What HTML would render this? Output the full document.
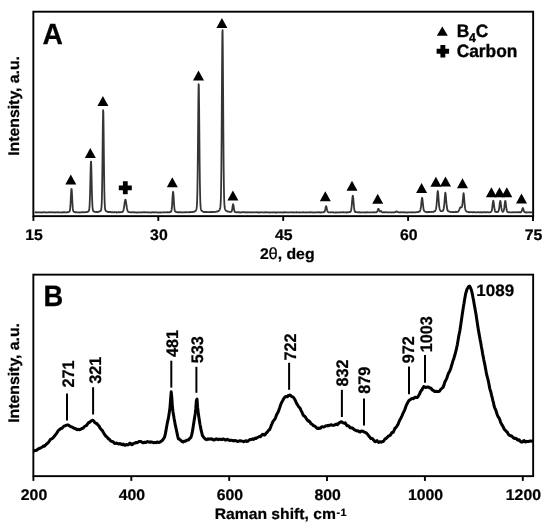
<!DOCTYPE html>
<html><head><meta charset="utf-8"><title>XRD and Raman</title>
<style>
html,body{margin:0;padding:0;background:#fff}
svg{display:block}
text{font-family:"Liberation Sans",Arial,Helvetica,sans-serif;font-weight:bold;font-size:15.8px;fill:#000;text-rendering:geometricPrecision;stroke:#000;stroke-width:0.25px}
.big{font-size:27px}
.leg{font-size:17.35px;stroke:#000;stroke-width:0.35px}
</style></head><body>
<svg width="550" height="527" viewBox="0 0 550 527">
<rect width="550" height="527" fill="#fff"/>
<defs><filter id="soft" x="0" y="0" width="550" height="527" filterUnits="userSpaceOnUse"><feGaussianBlur stdDeviation="0.35"/></filter></defs>
<g filter="url(#soft)">
<!-- panel A -->
<path d="M34.60,212.36 L34.85,212.39 L35.10,212.23 L35.35,212.36 L35.60,212.32 L35.85,212.23 L36.10,212.24 L36.35,212.20 L36.60,212.52 L36.85,212.55 L37.10,212.58 L37.35,212.37 L37.60,212.31 L37.85,212.27 L38.10,212.26 L38.35,212.33 L38.60,212.38 L38.85,212.46 L39.10,212.42 L39.35,212.44 L39.60,212.47 L39.85,212.52 L40.10,212.48 L40.35,212.38 L40.60,212.38 L40.85,212.53 L41.10,212.52 L41.35,212.47 L41.60,212.42 L41.85,212.38 L42.10,212.38 L42.35,212.37 L42.60,212.46 L42.85,212.48 L43.10,212.47 L43.35,212.26 L43.60,212.32 L43.85,212.22 L44.10,212.29 L44.35,212.25 L44.60,212.35 L44.85,212.42 L45.10,212.34 L45.35,212.30 L45.60,212.32 L45.85,212.47 L46.10,212.51 L46.35,212.53 L46.60,212.51 L46.85,212.45 L47.10,212.38 L47.35,212.35 L47.60,212.40 L47.85,212.44 L48.10,212.36 L48.35,212.34 L48.60,212.20 L48.85,212.29 L49.10,212.31 L49.35,212.36 L49.60,212.32 L49.85,212.23 L50.10,212.37 L50.35,212.25 L50.60,212.25 L50.85,212.25 L51.10,212.44 L51.35,212.36 L51.60,212.29 L51.85,212.24 L52.10,212.33 L52.35,212.46 L52.60,212.37 L52.85,212.43 L53.10,212.27 L53.35,212.42 L53.60,212.40 L53.85,212.44 L54.10,212.25 L54.35,212.35 L54.60,212.42 L54.85,212.57 L55.10,212.54 L55.35,212.51 L55.60,212.43 L55.85,212.31 L56.10,212.24 L56.35,212.36 L56.60,212.32 L56.85,212.33 L57.10,212.23 L57.35,212.33 L57.60,212.40 L57.85,212.34 L58.10,212.23 L58.35,212.19 L58.60,212.34 L58.85,212.48 L59.10,212.50 L59.35,212.40 L59.60,212.38 L59.85,212.35 L60.10,212.41 L60.35,212.35 L60.60,212.37 L60.85,212.31 L61.10,212.39 L61.35,212.39 L61.60,212.55 L61.85,212.61 L62.10,212.68 L62.35,212.41 L62.60,212.29 L62.85,212.16 L63.10,212.32 L63.35,212.20 L63.60,212.30 L63.85,212.33 L64.10,212.38 L64.35,212.25 L64.60,212.13 L64.85,212.21 L65.10,212.30 L65.35,212.47 L65.60,212.45 L65.85,212.45 L66.10,212.32 L66.35,212.43 L66.60,212.42 L66.85,212.48 L67.10,212.29 L67.35,212.22 L67.60,212.07 L67.85,212.20 L68.10,212.22 L68.35,212.21 L68.60,212.04 L68.85,211.97 L69.10,211.85 L69.35,211.64 L69.60,211.29 L69.85,210.74 L70.10,209.32 L70.35,206.69 L70.60,202.56 L70.85,197.52 L71.10,192.51 L71.35,189.12 L71.60,188.84 L71.85,191.82 L72.10,196.67 L72.35,201.78 L72.60,205.83 L72.85,208.63 L73.10,210.28 L73.35,211.18 L73.60,211.58 L73.85,211.72 L74.10,211.86 L74.35,212.01 L74.60,212.08 L74.85,212.13 L75.10,212.16 L75.35,212.24 L75.60,212.38 L75.85,212.22 L76.10,212.25 L76.35,212.13 L76.60,212.27 L76.85,212.28 L77.10,212.38 L77.35,212.44 L77.60,212.40 L77.85,212.44 L78.10,212.36 L78.35,212.35 L78.60,212.30 L78.85,212.29 L79.10,212.43 L79.35,212.44 L79.60,212.60 L79.85,212.47 L80.10,212.39 L80.35,212.27 L80.60,212.31 L80.85,212.30 L81.10,212.31 L81.35,212.26 L81.60,212.39 L81.85,212.33 L82.10,212.39 L82.35,212.25 L82.60,212.22 L82.85,212.11 L83.10,212.07 L83.35,212.13 L83.60,212.23 L83.85,212.31 L84.10,212.32 L84.35,212.35 L84.60,212.35 L84.85,212.31 L85.10,212.18 L85.35,212.05 L85.60,212.07 L85.85,211.96 L86.10,212.07 L86.35,211.99 L86.60,212.13 L86.85,212.05 L87.10,211.96 L87.35,211.86 L87.60,211.76 L87.85,211.72 L88.10,211.60 L88.35,211.48 L88.60,211.27 L88.85,210.85 L89.10,210.09 L89.35,208.39 L89.60,205.30 L89.85,199.73 L90.10,191.55 L90.35,180.96 L90.60,170.06 L90.85,162.47 L91.10,161.62 L91.35,168.06 L91.60,178.58 L91.85,189.49 L92.10,198.36 L92.35,204.38 L92.60,207.93 L92.85,209.86 L93.10,210.68 L93.35,211.14 L93.60,211.40 L93.85,211.55 L94.10,211.57 L94.35,211.60 L94.60,211.70 L94.85,211.89 L95.10,211.94 L95.35,211.94 L95.60,211.81 L95.85,211.81 L96.10,212.02 L96.35,212.06 L96.60,212.07 L96.85,211.96 L97.10,211.96 L97.35,212.08 L97.60,212.00 L97.85,212.02 L98.10,211.86 L98.35,211.90 L98.60,211.74 L98.85,211.78 L99.10,211.67 L99.35,211.67 L99.60,211.41 L99.85,211.25 L100.10,211.14 L100.35,211.07 L100.60,210.90 L100.85,210.58 L101.10,209.92 L101.35,208.57 L101.60,205.67 L101.85,199.61 L102.10,188.36 L102.35,170.61 L102.60,147.66 L102.85,124.64 L103.10,110.14 L103.35,111.86 L103.60,128.87 L103.85,152.53 L104.10,174.71 L104.35,191.02 L104.60,201.16 L104.85,206.32 L105.10,208.81 L105.35,209.94 L105.60,210.56 L105.85,210.97 L106.10,211.17 L106.35,211.37 L106.60,211.44 L106.85,211.43 L107.10,211.53 L107.35,211.71 L107.60,211.82 L107.85,212.02 L108.10,211.95 L108.35,212.11 L108.60,212.04 L108.85,211.94 L109.10,211.88 L109.35,211.91 L109.60,212.00 L109.85,211.97 L110.10,212.00 L110.35,212.05 L110.60,212.04 L110.85,211.99 L111.10,212.09 L111.35,212.17 L111.60,212.28 L111.85,212.33 L112.10,212.37 L112.35,212.25 L112.60,212.09 L112.85,212.09 L113.10,212.22 L113.35,212.31 L113.60,212.35 L113.85,212.28 L114.10,212.28 L114.35,212.23 L114.60,212.24 L114.85,212.14 L115.10,212.08 L115.35,212.07 L115.60,212.08 L115.85,212.12 L116.10,212.19 L116.35,212.25 L116.60,212.48 L116.85,212.50 L117.10,212.47 L117.35,212.34 L117.60,212.30 L117.85,212.30 L118.10,212.31 L118.35,212.24 L118.60,212.10 L118.85,212.08 L119.10,212.08 L119.35,212.35 L119.60,212.25 L119.85,212.21 L120.10,212.21 L120.35,212.17 L120.60,212.24 L120.85,212.22 L121.10,212.27 L121.35,212.23 L121.60,212.12 L121.85,212.13 L122.10,212.02 L122.35,211.95 L122.60,211.76 L122.85,211.68 L123.10,211.20 L123.35,210.47 L123.60,209.46 L123.85,208.24 L124.10,206.80 L124.35,205.03 L124.60,203.32 L124.85,201.62 L125.10,200.37 L125.35,199.58 L125.60,199.81 L125.85,200.91 L126.10,202.54 L126.35,204.32 L126.60,205.94 L126.85,207.63 L127.10,209.02 L127.35,210.06 L127.60,210.81 L127.85,211.32 L128.10,211.76 L128.35,211.89 L128.60,212.10 L128.85,212.16 L129.10,212.24 L129.35,212.14 L129.60,212.13 L129.85,212.21 L130.10,212.24 L130.35,212.33 L130.60,212.33 L130.85,212.44 L131.10,212.43 L131.35,212.40 L131.60,212.21 L131.85,212.19 L132.10,212.25 L132.35,212.38 L132.60,212.40 L132.85,212.33 L133.10,212.30 L133.35,212.21 L133.60,212.32 L133.85,212.36 L134.10,212.39 L134.35,212.23 L134.60,212.21 L134.85,212.33 L135.10,212.44 L135.35,212.41 L135.60,212.41 L135.85,212.47 L136.10,212.58 L136.35,212.54 L136.60,212.52 L136.85,212.50 L137.10,212.50 L137.35,212.38 L137.60,212.44 L137.85,212.41 L138.10,212.58 L138.35,212.37 L138.60,212.40 L138.85,212.34 L139.10,212.44 L139.35,212.42 L139.60,212.41 L139.85,212.47 L140.10,212.41 L140.35,212.36 L140.60,212.38 L140.85,212.49 L141.10,212.51 L141.35,212.45 L141.60,212.39 L141.85,212.44 L142.10,212.38 L142.35,212.28 L142.60,212.23 L142.85,212.23 L143.10,212.27 L143.35,212.27 L143.60,212.37 L143.85,212.34 L144.10,212.38 L144.35,212.24 L144.60,212.34 L144.85,212.20 L145.10,212.23 L145.35,212.24 L145.60,212.31 L145.85,212.34 L146.10,212.27 L146.35,212.32 L146.60,212.37 L146.85,212.39 L147.10,212.43 L147.35,212.39 L147.60,212.36 L147.85,212.27 L148.10,212.38 L148.35,212.47 L148.60,212.58 L148.85,212.50 L149.10,212.44 L149.35,212.41 L149.60,212.39 L149.85,212.45 L150.10,212.44 L150.35,212.42 L150.60,212.37 L150.85,212.32 L151.10,212.46 L151.35,212.62 L151.60,212.62 L151.85,212.52 L152.10,212.23 L152.35,212.25 L152.60,212.24 L152.85,212.32 L153.10,212.35 L153.35,212.26 L153.60,212.31 L153.85,212.27 L154.10,212.29 L154.35,212.35 L154.60,212.41 L154.85,212.40 L155.10,212.26 L155.35,212.24 L155.60,212.32 L155.85,212.33 L156.10,212.27 L156.35,212.27 L156.60,212.33 L156.85,212.40 L157.10,212.43 L157.35,212.54 L157.60,212.58 L157.85,212.59 L158.10,212.55 L158.35,212.55 L158.60,212.55 L158.85,212.41 L159.10,212.38 L159.35,212.34 L159.60,212.51 L159.85,212.47 L160.10,212.49 L160.35,212.41 L160.60,212.51 L160.85,212.49 L161.10,212.45 L161.35,212.37 L161.60,212.33 L161.85,212.35 L162.10,212.33 L162.35,212.37 L162.60,212.48 L162.85,212.45 L163.10,212.44 L163.35,212.31 L163.60,212.37 L163.85,212.30 L164.10,212.27 L164.35,212.22 L164.60,212.32 L164.85,212.36 L165.10,212.33 L165.35,212.24 L165.60,212.27 L165.85,212.38 L166.10,212.45 L166.35,212.43 L166.60,212.36 L166.85,212.28 L167.10,212.24 L167.35,212.19 L167.60,212.26 L167.85,212.27 L168.10,212.20 L168.35,212.24 L168.60,212.33 L168.85,212.37 L169.10,212.31 L169.35,212.20 L169.60,212.24 L169.85,212.09 L170.10,212.13 L170.35,212.00 L170.60,212.07 L170.85,211.83 L171.10,211.53 L171.35,210.84 L171.60,209.73 L171.85,207.70 L172.10,204.67 L172.35,200.66 L172.60,196.39 L172.85,193.06 L173.10,191.77 L173.35,193.22 L173.60,196.64 L173.85,200.77 L174.10,204.69 L174.35,207.75 L174.60,209.86 L174.85,210.89 L175.10,211.19 L175.35,211.37 L175.60,211.72 L175.85,211.98 L176.10,212.08 L176.35,212.10 L176.60,212.10 L176.85,212.16 L177.10,212.19 L177.35,212.29 L177.60,212.31 L177.85,212.24 L178.10,212.25 L178.35,212.21 L178.60,212.34 L178.85,212.47 L179.10,212.45 L179.35,212.25 L179.60,212.07 L179.85,212.14 L180.10,212.34 L180.35,212.43 L180.60,212.36 L180.85,212.26 L181.10,212.27 L181.35,212.25 L181.60,212.36 L181.85,212.28 L182.10,212.39 L182.35,212.36 L182.60,212.42 L182.85,212.43 L183.10,212.32 L183.35,212.29 L183.60,212.24 L183.85,212.32 L184.10,212.38 L184.35,212.36 L184.60,212.29 L184.85,212.17 L185.10,212.17 L185.35,212.25 L185.60,212.25 L185.85,212.33 L186.10,212.30 L186.35,212.33 L186.60,212.18 L186.85,212.17 L187.10,212.22 L187.35,212.19 L187.60,212.24 L187.85,212.29 L188.10,212.41 L188.35,212.37 L188.60,212.40 L188.85,212.45 L189.10,212.36 L189.35,212.20 L189.60,212.11 L189.85,212.14 L190.10,211.99 L190.35,212.03 L190.60,211.99 L190.85,212.13 L191.10,212.06 L191.35,212.13 L191.60,212.08 L191.85,212.02 L192.10,211.97 L192.35,212.04 L192.60,212.04 L192.85,212.05 L193.10,211.94 L193.35,211.89 L193.60,211.84 L193.85,211.71 L194.10,211.74 L194.35,211.53 L194.60,211.51 L194.85,211.25 L195.10,211.09 L195.35,210.96 L195.60,210.83 L195.85,210.61 L196.10,210.14 L196.35,209.57 L196.60,208.41 L196.85,206.15 L197.10,201.49 L197.35,192.55 L197.60,177.19 L197.85,154.57 L198.10,126.91 L198.35,100.32 L198.60,84.22 L198.85,86.23 L199.10,105.39 L199.35,132.80 L199.60,159.76 L199.85,180.83 L200.10,194.78 L200.35,202.61 L200.60,206.67 L200.85,208.65 L201.10,209.81 L201.35,210.43 L201.60,210.68 L201.85,210.87 L202.10,210.96 L202.35,211.23 L202.60,211.33 L202.85,211.54 L203.10,211.74 L203.35,211.88 L203.60,212.03 L203.85,211.95 L204.10,211.92 L204.35,211.91 L204.60,212.04 L204.85,212.06 L205.10,212.01 L205.35,211.85 L205.60,211.89 L205.85,211.96 L206.10,212.06 L206.35,212.05 L206.60,211.93 L206.85,211.97 L207.10,212.06 L207.35,212.19 L207.60,212.19 L207.85,212.07 L208.10,212.15 L208.35,212.14 L208.60,212.21 L208.85,212.15 L209.10,212.03 L209.35,212.03 L209.60,211.98 L209.85,212.14 L210.10,212.22 L210.35,212.26 L210.60,212.12 L210.85,212.02 L211.10,212.00 L211.35,212.11 L211.60,212.05 L211.85,211.94 L212.10,211.95 L212.35,212.04 L212.60,212.13 L212.85,211.99 L213.10,212.06 L213.35,211.88 L213.60,211.95 L213.85,211.95 L214.10,212.10 L214.35,212.12 L214.60,211.91 L214.85,211.98 L215.10,211.86 L215.35,211.92 L215.60,211.82 L215.85,211.80 L216.10,211.80 L216.35,211.66 L216.60,211.63 L216.85,211.52 L217.10,211.52 L217.35,211.52 L217.60,211.49 L217.85,211.40 L218.10,211.23 L218.35,211.01 L218.60,210.84 L218.85,210.73 L219.10,210.51 L219.35,210.27 L219.60,209.85 L219.85,209.32 L220.10,208.60 L220.35,207.20 L220.60,204.54 L220.85,198.88 L221.10,187.62 L221.35,167.77 L221.60,137.43 L221.85,99.04 L222.10,59.86 L222.35,32.84 L222.60,30.07 L222.85,53.19 L223.10,91.12 L223.35,130.53 L223.60,162.70 L223.85,184.45 L224.10,197.17 L224.35,203.65 L224.60,206.70 L224.85,208.25 L225.10,209.23 L225.35,209.89 L225.60,210.24 L225.85,210.55 L226.10,210.74 L226.35,210.93 L226.60,210.93 L226.85,211.03 L227.10,211.17 L227.35,211.46 L227.60,211.60 L227.85,211.62 L228.10,211.53 L228.35,211.58 L228.60,211.59 L228.85,211.67 L229.10,211.76 L229.35,211.92 L229.60,211.97 L229.85,211.87 L230.10,211.76 L230.35,211.81 L230.60,211.95 L230.85,211.95 L231.10,211.84 L231.35,211.65 L231.60,211.50 L231.85,210.91 L232.10,209.84 L232.35,208.29 L232.60,206.48 L232.85,204.94 L233.10,204.18 L233.35,204.65 L233.60,206.19 L233.85,208.03 L234.10,209.77 L234.35,210.92 L234.60,211.64 L234.85,211.91 L235.10,212.01 L235.35,212.14 L235.60,212.16 L235.85,212.23 L236.10,212.23 L236.35,212.30 L236.60,212.35 L236.85,212.28 L237.10,212.33 L237.35,212.20 L237.60,212.20 L237.85,212.09 L238.10,212.18 L238.35,212.17 L238.60,212.25 L238.85,212.16 L239.10,212.28 L239.35,212.39 L239.60,212.48 L239.85,212.52 L240.10,212.44 L240.35,212.56 L240.60,212.47 L240.85,212.35 L241.10,212.31 L241.35,212.30 L241.60,212.33 L241.85,212.21 L242.10,212.12 L242.35,212.17 L242.60,212.15 L242.85,212.34 L243.10,212.39 L243.35,212.36 L243.60,212.18 L243.85,212.11 L244.10,212.09 L244.35,212.18 L244.60,212.21 L244.85,212.28 L245.10,212.26 L245.35,212.29 L245.60,212.42 L245.85,212.55 L246.10,212.52 L246.35,212.49 L246.60,212.36 L246.85,212.38 L247.10,212.27 L247.35,212.36 L247.60,212.26 L247.85,212.26 L248.10,212.22 L248.35,212.33 L248.60,212.30 L248.85,212.27 L249.10,212.25 L249.35,212.35 L249.60,212.33 L249.85,212.33 L250.10,212.30 L250.35,212.43 L250.60,212.46 L250.85,212.40 L251.10,212.18 L251.35,212.16 L251.60,212.31 L251.85,212.45 L252.10,212.50 L252.35,212.40 L252.60,212.31 L252.85,212.30 L253.10,212.33 L253.35,212.46 L253.60,212.33 L253.85,212.34 L254.10,212.26 L254.35,212.39 L254.60,212.34 L254.85,212.35 L255.10,212.26 L255.35,212.37 L255.60,212.41 L255.85,212.40 L256.10,212.27 L256.35,212.20 L256.60,212.33 L256.85,212.29 L257.10,212.30 L257.35,212.25 L257.60,212.43 L257.85,212.47 L258.10,212.48 L258.35,212.46 L258.60,212.53 L258.85,212.48 L259.10,212.54 L259.35,212.49 L259.60,212.58 L259.85,212.42 L260.10,212.46 L260.35,212.29 L260.60,212.27 L260.85,212.25 L261.10,212.27 L261.35,212.39 L261.60,212.30 L261.85,212.44 L262.10,212.42 L262.35,212.41 L262.60,212.33 L262.85,212.38 L263.10,212.40 L263.35,212.42 L263.60,212.49 L263.85,212.59 L264.10,212.56 L264.35,212.41 L264.60,212.39 L264.85,212.30 L265.10,212.15 L265.35,212.08 L265.60,212.10 L265.85,212.39 L266.10,212.44 L266.35,212.44 L266.60,212.27 L266.85,212.29 L267.10,212.30 L267.35,212.34 L267.60,212.30 L267.85,212.36 L268.10,212.40 L268.35,212.41 L268.60,212.48 L268.85,212.58 L269.10,212.48 L269.35,212.55 L269.60,212.46 L269.85,212.63 L270.10,212.43 L270.35,212.45 L270.60,212.38 L270.85,212.44 L271.10,212.47 L271.35,212.49 L271.60,212.43 L271.85,212.37 L272.10,212.37 L272.35,212.48 L272.60,212.46 L272.85,212.40 L273.10,212.35 L273.35,212.31 L273.60,212.25 L273.85,212.35 L274.10,212.39 L274.35,212.47 L274.60,212.34 L274.85,212.44 L275.10,212.54 L275.35,212.57 L275.60,212.52 L275.85,212.37 L276.10,212.49 L276.35,212.52 L276.60,212.51 L276.85,212.48 L277.10,212.45 L277.35,212.52 L277.60,212.47 L277.85,212.41 L278.10,212.35 L278.35,212.36 L278.60,212.40 L278.85,212.38 L279.10,212.46 L279.35,212.45 L279.60,212.48 L279.85,212.31 L280.10,212.37 L280.35,212.46 L280.60,212.51 L280.85,212.52 L281.10,212.38 L281.35,212.34 L281.60,212.26 L281.85,212.35 L282.10,212.40 L282.35,212.31 L282.60,212.49 L282.85,212.41 L283.10,212.56 L283.35,212.42 L283.60,212.52 L283.85,212.51 L284.10,212.29 L284.35,212.17 L284.60,212.20 L284.85,212.32 L285.10,212.32 L285.35,212.14 L285.60,212.27 L285.85,212.36 L286.10,212.45 L286.35,212.37 L286.60,212.33 L286.85,212.31 L287.10,212.31 L287.35,212.33 L287.60,212.43 L287.85,212.52 L288.10,212.50 L288.35,212.44 L288.60,212.39 L288.85,212.35 L289.10,212.30 L289.35,212.35 L289.60,212.36 L289.85,212.45 L290.10,212.42 L290.35,212.37 L290.60,212.40 L290.85,212.39 L291.10,212.45 L291.35,212.44 L291.60,212.36 L291.85,212.24 L292.10,212.20 L292.35,212.19 L292.60,212.37 L292.85,212.41 L293.10,212.43 L293.35,212.38 L293.60,212.44 L293.85,212.54 L294.10,212.56 L294.35,212.51 L294.60,212.42 L294.85,212.39 L295.10,212.40 L295.35,212.41 L295.60,212.44 L295.85,212.34 L296.10,212.24 L296.35,212.12 L296.60,212.16 L296.85,212.34 L297.10,212.52 L297.35,212.48 L297.60,212.31 L297.85,212.29 L298.10,212.37 L298.35,212.39 L298.60,212.40 L298.85,212.38 L299.10,212.55 L299.35,212.50 L299.60,212.55 L299.85,212.49 L300.10,212.41 L300.35,212.34 L300.60,212.28 L300.85,212.39 L301.10,212.34 L301.35,212.29 L301.60,212.28 L301.85,212.41 L302.10,212.59 L302.35,212.61 L302.60,212.45 L302.85,212.32 L303.10,212.23 L303.35,212.32 L303.60,212.23 L303.85,212.26 L304.10,212.28 L304.35,212.35 L304.60,212.36 L304.85,212.41 L305.10,212.47 L305.35,212.53 L305.60,212.52 L305.85,212.54 L306.10,212.50 L306.35,212.42 L306.60,212.47 L306.85,212.41 L307.10,212.39 L307.35,212.36 L307.60,212.35 L307.85,212.41 L308.10,212.44 L308.35,212.48 L308.60,212.46 L308.85,212.46 L309.10,212.50 L309.35,212.40 L309.60,212.26 L309.85,212.30 L310.10,212.41 L310.35,212.37 L310.60,212.21 L310.85,212.19 L311.10,212.25 L311.35,212.36 L311.60,212.36 L311.85,212.45 L312.10,212.35 L312.35,212.39 L312.60,212.47 L312.85,212.50 L313.10,212.54 L313.35,212.48 L313.60,212.57 L313.85,212.48 L314.10,212.35 L314.35,212.26 L314.60,212.31 L314.85,212.44 L315.10,212.57 L315.35,212.58 L315.60,212.57 L315.85,212.47 L316.10,212.34 L316.35,212.30 L316.60,212.36 L316.85,212.43 L317.10,212.33 L317.35,212.27 L317.60,212.17 L317.85,212.27 L318.10,212.24 L318.35,212.32 L318.60,212.33 L318.85,212.40 L319.10,212.49 L319.35,212.40 L319.60,212.26 L319.85,212.23 L320.10,212.38 L320.35,212.60 L320.60,212.55 L320.85,212.50 L321.10,212.42 L321.35,212.32 L321.60,212.25 L321.85,212.27 L322.10,212.31 L322.35,212.45 L322.60,212.32 L322.85,212.32 L323.10,212.25 L323.35,212.29 L323.60,212.23 L323.85,212.03 L324.10,211.93 L324.35,211.91 L324.60,211.67 L324.85,211.14 L325.10,210.11 L325.35,208.96 L325.60,207.66 L325.85,206.60 L326.10,206.12 L326.35,206.53 L326.60,207.69 L326.85,208.98 L327.10,210.18 L327.35,211.14 L327.60,211.70 L327.85,211.94 L328.10,212.06 L328.35,212.23 L328.60,212.34 L328.85,212.32 L329.10,212.30 L329.35,212.35 L329.60,212.32 L329.85,212.39 L330.10,212.30 L330.35,212.28 L330.60,212.24 L330.85,212.29 L331.10,212.38 L331.35,212.37 L331.60,212.37 L331.85,212.35 L332.10,212.32 L332.35,212.26 L332.60,212.18 L332.85,212.16 L333.10,212.23 L333.35,212.31 L333.60,212.41 L333.85,212.47 L334.10,212.57 L334.35,212.60 L334.60,212.55 L334.85,212.54 L335.10,212.54 L335.35,212.52 L335.60,212.44 L335.85,212.44 L336.10,212.48 L336.35,212.52 L336.60,212.48 L336.85,212.51 L337.10,212.43 L337.35,212.43 L337.60,212.36 L337.85,212.42 L338.10,212.30 L338.35,212.34 L338.60,212.38 L338.85,212.51 L339.10,212.49 L339.35,212.45 L339.60,212.36 L339.85,212.31 L340.10,212.26 L340.35,212.30 L340.60,212.41 L340.85,212.37 L341.10,212.44 L341.35,212.29 L341.60,212.29 L341.85,212.23 L342.10,212.39 L342.35,212.40 L342.60,212.27 L342.85,212.23 L343.10,212.26 L343.35,212.32 L343.60,212.24 L343.85,212.19 L344.10,212.26 L344.35,212.36 L344.60,212.31 L344.85,212.44 L345.10,212.40 L345.35,212.46 L345.60,212.36 L345.85,212.36 L346.10,212.52 L346.35,212.54 L346.60,212.51 L346.85,212.34 L347.10,212.24 L347.35,212.23 L347.60,212.29 L347.85,212.27 L348.10,212.37 L348.35,212.31 L348.60,212.33 L348.85,212.27 L349.10,212.13 L349.35,212.06 L349.60,212.00 L349.85,212.07 L350.10,212.05 L350.35,211.91 L350.60,211.63 L350.85,211.17 L351.10,210.25 L351.35,208.83 L351.60,206.90 L351.85,204.26 L352.10,201.25 L352.35,198.29 L352.60,196.29 L352.85,195.75 L353.10,196.88 L353.35,199.36 L353.60,202.43 L353.85,205.46 L354.10,207.89 L354.35,209.69 L354.60,210.82 L354.85,211.50 L355.10,211.96 L355.35,212.19 L355.60,212.15 L355.85,212.15 L356.10,212.04 L356.35,212.09 L356.60,212.10 L356.85,212.15 L357.10,212.23 L357.35,212.27 L357.60,212.28 L357.85,212.26 L358.10,212.22 L358.35,212.35 L358.60,212.44 L358.85,212.33 L359.10,212.23 L359.35,212.19 L359.60,212.40 L359.85,212.50 L360.10,212.56 L360.35,212.52 L360.60,212.45 L360.85,212.43 L361.10,212.39 L361.35,212.36 L361.60,212.33 L361.85,212.34 L362.10,212.33 L362.35,212.38 L362.60,212.39 L362.85,212.52 L363.10,212.43 L363.35,212.39 L363.60,212.42 L363.85,212.51 L364.10,212.46 L364.35,212.39 L364.60,212.43 L364.85,212.47 L365.10,212.48 L365.35,212.55 L365.60,212.55 L365.85,212.52 L366.10,212.31 L366.35,212.27 L366.60,212.37 L366.85,212.42 L367.10,212.39 L367.35,212.24 L367.60,212.25 L367.85,212.37 L368.10,212.38 L368.35,212.42 L368.60,212.35 L368.85,212.41 L369.10,212.40 L369.35,212.47 L369.60,212.42 L369.85,212.38 L370.10,212.37 L370.35,212.32 L370.60,212.34 L370.85,212.34 L371.10,212.48 L371.35,212.46 L371.60,212.42 L371.85,212.37 L372.10,212.32 L372.35,212.32 L372.60,212.33 L372.85,212.39 L373.10,212.34 L373.35,212.30 L373.60,212.15 L373.85,212.26 L374.10,212.24 L374.35,212.38 L374.60,212.26 L374.85,212.28 L375.10,212.29 L375.35,212.41 L375.60,212.32 L375.85,212.33 L376.10,212.24 L376.35,212.23 L376.60,212.12 L376.85,211.93 L377.10,211.65 L377.35,211.10 L377.60,210.49 L377.85,209.79 L378.10,209.19 L378.35,208.80 L378.60,208.90 L378.85,209.45 L379.10,210.26 L379.35,210.92 L379.60,211.41 L379.85,211.50 L380.10,211.37 L380.35,211.12 L380.60,210.86 L380.85,210.91 L381.10,211.11 L381.35,211.46 L381.60,211.75 L381.85,212.10 L382.10,212.31 L382.35,212.42 L382.60,212.37 L382.85,212.37 L383.10,212.37 L383.35,212.35 L383.60,212.22 L383.85,212.31 L384.10,212.23 L384.35,212.31 L384.60,212.26 L384.85,212.33 L385.10,212.32 L385.35,212.30 L385.60,212.23 L385.85,212.27 L386.10,212.16 L386.35,212.18 L386.60,212.25 L386.85,212.35 L387.10,212.42 L387.35,212.45 L387.60,212.44 L387.85,212.38 L388.10,212.31 L388.35,212.41 L388.60,212.45 L388.85,212.49 L389.10,212.38 L389.35,212.40 L389.60,212.40 L389.85,212.41 L390.10,212.38 L390.35,212.31 L390.60,212.26 L390.85,212.29 L391.10,212.39 L391.35,212.49 L391.60,212.47 L391.85,212.38 L392.10,212.36 L392.35,212.39 L392.60,212.35 L392.85,212.36 L393.10,212.36 L393.35,212.54 L393.60,212.43 L393.85,212.31 L394.10,212.26 L394.35,212.21 L394.60,212.24 L394.85,212.11 L395.10,212.13 L395.35,211.99 L395.60,211.90 L395.85,211.81 L396.10,211.68 L396.35,211.48 L396.60,211.30 L396.85,211.46 L397.10,211.71 L397.35,212.06 L397.60,212.09 L397.85,212.22 L398.10,212.16 L398.35,212.30 L398.60,212.31 L398.85,212.31 L399.10,212.31 L399.35,212.37 L399.60,212.47 L399.85,212.49 L400.10,212.37 L400.35,212.30 L400.60,212.20 L400.85,212.26 L401.10,212.37 L401.35,212.46 L401.60,212.46 L401.85,212.32 L402.10,212.32 L402.35,212.30 L402.60,212.26 L402.85,212.13 L403.10,212.12 L403.35,212.18 L403.60,212.38 L403.85,212.40 L404.10,212.40 L404.35,212.27 L404.60,212.36 L404.85,212.36 L405.10,212.44 L405.35,212.37 L405.60,212.51 L405.85,212.50 L406.10,212.45 L406.35,212.39 L406.60,212.36 L406.85,212.44 L407.10,212.41 L407.35,212.52 L407.60,212.45 L407.85,212.48 L408.10,212.32 L408.35,212.34 L408.60,212.31 L408.85,212.36 L409.10,212.40 L409.35,212.37 L409.60,212.30 L409.85,212.31 L410.10,212.33 L410.35,212.34 L410.60,212.34 L410.85,212.40 L411.10,212.28 L411.35,212.18 L411.60,212.18 L411.85,212.38 L412.10,212.37 L412.35,212.42 L412.60,212.32 L412.85,212.33 L413.10,212.24 L413.35,212.28 L413.60,212.34 L413.85,212.38 L414.10,212.38 L414.35,212.40 L414.60,212.30 L414.85,212.28 L415.10,212.29 L415.35,212.32 L415.60,212.39 L415.85,212.25 L416.10,212.21 L416.35,212.13 L416.60,212.15 L416.85,212.12 L417.10,212.11 L417.35,212.11 L417.60,212.17 L417.85,212.14 L418.10,212.10 L418.35,212.03 L418.60,211.90 L418.85,211.70 L419.10,211.65 L419.35,211.67 L419.60,211.60 L419.85,211.27 L420.10,210.74 L420.35,210.02 L420.60,209.03 L420.85,207.53 L421.10,205.67 L421.35,203.15 L421.60,200.63 L421.85,198.51 L422.10,197.78 L422.35,198.62 L422.60,200.75 L422.85,203.20 L423.10,205.64 L423.35,207.59 L423.60,209.20 L423.85,210.18 L424.10,210.82 L424.35,211.14 L424.60,211.35 L424.85,211.47 L425.10,211.67 L425.35,211.83 L425.60,211.93 L425.85,211.95 L426.10,211.95 L426.35,212.03 L426.60,212.10 L426.85,212.27 L427.10,212.29 L427.35,212.19 L427.60,212.07 L427.85,211.96 L428.10,211.94 L428.35,211.93 L428.60,212.04 L428.85,212.19 L429.10,212.20 L429.35,212.18 L429.60,212.02 L429.85,212.03 L430.10,211.92 L430.35,211.89 L430.60,211.90 L430.85,211.95 L431.10,212.01 L431.35,211.96 L431.60,211.88 L431.85,211.87 L432.10,211.85 L432.35,211.89 L432.60,211.79 L432.85,211.80 L433.10,211.77 L433.35,211.87 L433.60,211.86 L433.85,211.76 L434.10,211.56 L434.35,211.28 L434.60,211.14 L434.85,211.10 L435.10,211.09 L435.35,210.62 L435.60,210.02 L435.85,209.19 L436.10,208.19 L436.35,206.63 L436.60,204.39 L436.85,201.50 L437.10,198.04 L437.35,194.45 L437.60,191.79 L437.85,191.03 L438.10,192.74 L438.35,195.79 L438.60,199.36 L438.85,202.61 L439.10,205.34 L439.35,207.37 L439.60,208.64 L439.85,209.56 L440.10,210.14 L440.35,210.67 L440.60,210.92 L440.85,211.10 L441.10,211.06 L441.35,211.08 L441.60,211.11 L441.85,211.14 L442.10,211.17 L442.35,211.04 L442.60,211.00 L442.85,210.85 L443.10,210.43 L443.35,209.90 L443.60,208.96 L443.85,207.79 L444.10,205.86 L444.35,203.44 L444.60,200.34 L444.85,197.04 L445.10,194.10 L445.35,192.74 L445.60,193.50 L445.85,196.03 L446.10,199.26 L446.35,202.35 L446.60,204.90 L446.85,206.99 L447.10,208.53 L447.35,209.66 L447.60,210.39 L447.85,210.80 L448.10,211.06 L448.35,211.04 L448.60,211.24 L448.85,211.37 L449.10,211.56 L449.35,211.63 L449.60,211.64 L449.85,211.70 L450.10,211.85 L450.35,212.00 L450.60,212.12 L450.85,212.08 L451.10,212.10 L451.35,212.08 L451.60,212.19 L451.85,212.16 L452.10,212.21 L452.35,212.07 L452.60,212.06 L452.85,211.88 L453.10,211.79 L453.35,211.90 L453.60,212.14 L453.85,212.24 L454.10,212.14 L454.35,212.09 L454.60,212.05 L454.85,212.16 L455.10,212.05 L455.35,212.06 L455.60,211.78 L455.85,211.92 L456.10,211.95 L456.35,212.19 L456.60,212.02 L456.85,212.00 L457.10,211.86 L457.35,211.87 L457.60,211.88 L457.85,211.88 L458.10,211.77 L458.35,211.38 L458.60,210.97 L458.85,210.57 L459.10,210.15 L459.35,209.58 L459.60,208.94 L459.85,208.28 L460.10,207.73 L460.35,207.40 L460.60,207.17 L460.85,207.13 L461.10,207.18 L461.35,207.30 L461.60,207.31 L461.85,206.90 L462.10,206.21 L462.35,204.75 L462.60,202.66 L462.85,199.87 L463.10,196.86 L463.35,194.33 L463.60,193.23 L463.85,194.52 L464.10,197.31 L464.35,200.73 L464.60,203.72 L464.85,206.28 L465.10,208.14 L465.35,209.41 L465.60,210.17 L465.85,210.77 L466.10,211.07 L466.35,211.34 L466.60,211.49 L466.85,211.64 L467.10,211.78 L467.35,211.84 L467.60,211.85 L467.85,211.84 L468.10,211.90 L468.35,212.01 L468.60,212.04 L468.85,212.20 L469.10,212.24 L469.35,212.28 L469.60,212.14 L469.85,212.23 L470.10,212.21 L470.35,212.19 L470.60,212.06 L470.85,212.10 L471.10,212.21 L471.35,212.19 L471.60,212.13 L471.85,212.13 L472.10,212.30 L472.35,212.27 L472.60,212.21 L472.85,212.20 L473.10,212.26 L473.35,212.26 L473.60,212.18 L473.85,212.14 L474.10,212.17 L474.35,212.23 L474.60,212.23 L474.85,212.23 L475.10,212.28 L475.35,212.38 L475.60,212.44 L475.85,212.34 L476.10,212.41 L476.35,212.31 L476.60,212.46 L476.85,212.35 L477.10,212.36 L477.35,212.19 L477.60,212.20 L477.85,212.21 L478.10,212.22 L478.35,212.23 L478.60,212.30 L478.85,212.40 L479.10,212.40 L479.35,212.43 L479.60,212.32 L479.85,212.28 L480.10,212.14 L480.35,212.24 L480.60,212.20 L480.85,212.19 L481.10,212.23 L481.35,212.43 L481.60,212.59 L481.85,212.42 L482.10,212.32 L482.35,212.29 L482.60,212.39 L482.85,212.29 L483.10,212.22 L483.35,212.11 L483.60,212.13 L483.85,212.28 L484.10,212.42 L484.35,212.41 L484.60,212.19 L484.85,212.17 L485.10,212.22 L485.35,212.35 L485.60,212.28 L485.85,212.30 L486.10,212.28 L486.35,212.25 L486.60,212.15 L486.85,212.06 L487.10,212.07 L487.35,212.17 L487.60,212.24 L487.85,212.27 L488.10,212.30 L488.35,212.25 L488.60,212.33 L488.85,212.41 L489.10,212.47 L489.35,212.38 L489.60,212.32 L489.85,212.32 L490.10,212.29 L490.35,212.18 L490.60,212.04 L490.85,211.87 L491.10,211.75 L491.35,211.56 L491.60,211.01 L491.85,210.06 L492.10,208.63 L492.35,206.86 L492.60,204.72 L492.85,202.67 L493.10,201.14 L493.35,200.80 L493.60,201.65 L493.85,203.62 L494.10,205.78 L494.35,207.78 L494.60,209.29 L494.85,210.51 L495.10,211.38 L495.35,211.82 L495.60,211.94 L495.85,211.87 L496.10,211.90 L496.35,211.93 L496.60,211.98 L496.85,212.11 L497.10,212.00 L497.35,212.01 L497.60,211.89 L497.85,211.95 L498.10,211.90 L498.35,211.49 L498.60,210.88 L498.85,209.87 L499.10,208.60 L499.35,206.81 L499.60,204.67 L499.85,202.71 L500.10,201.23 L500.35,200.87 L500.60,201.72 L500.85,203.62 L501.10,205.80 L501.35,207.66 L501.60,209.14 L501.85,210.19 L502.10,210.91 L502.35,211.35 L502.60,211.68 L502.85,211.82 L503.10,211.75 L503.35,211.42 L503.60,210.90 L503.85,210.21 L504.10,208.86 L504.35,207.16 L504.60,204.84 L504.85,202.75 L505.10,201.09 L505.35,200.83 L505.60,201.82 L505.85,203.96 L506.10,206.07 L506.35,208.07 L506.60,209.55 L506.85,210.75 L507.10,211.46 L507.35,211.68 L507.60,211.92 L507.85,212.07 L508.10,212.27 L508.35,212.19 L508.60,212.22 L508.85,212.18 L509.10,212.24 L509.35,212.20 L509.60,212.33 L509.85,212.30 L510.10,212.30 L510.35,212.30 L510.60,212.35 L510.85,212.38 L511.10,212.30 L511.35,212.35 L511.60,212.32 L511.85,212.36 L512.10,212.43 L512.35,212.50 L512.60,212.42 L512.85,212.23 L513.10,212.22 L513.35,212.19 L513.60,212.17 L513.85,212.12 L514.10,212.13 L514.35,212.28 L514.60,212.24 L514.85,212.40 L515.10,212.30 L515.35,212.40 L515.60,212.34 L515.85,212.40 L516.10,212.44 L516.35,212.34 L516.60,212.19 L516.85,212.13 L517.10,212.09 L517.35,212.19 L517.60,212.26 L517.85,212.34 L518.10,212.34 L518.35,212.21 L518.60,212.21 L518.85,212.23 L519.10,212.20 L519.35,212.23 L519.60,212.16 L519.85,212.26 L520.10,212.21 L520.35,212.31 L520.60,212.31 L520.85,212.26 L521.10,212.05 L521.35,211.75 L521.60,211.36 L521.85,210.75 L522.10,209.87 L522.35,208.91 L522.60,208.28 L522.85,208.00 L523.10,208.41 L523.35,209.05 L523.60,210.13 L523.85,210.88 L524.10,211.53 L524.35,211.77 L524.60,212.02 L524.85,212.19 L525.10,212.41 L525.35,212.36 L525.60,212.30 L525.85,212.45 L526.10,212.59 L526.35,212.63 L526.60,212.43 L526.85,212.22 L527.10,212.32 L527.35,212.30 L527.60,212.38 L527.85,212.35 L528.10,212.31 L528.35,212.34 L528.60,212.30 L528.85,212.36 L529.10,212.40 L529.35,212.36 L529.60,212.26 L529.85,212.20 L530.10,212.26 L530.35,212.42 L530.60,212.54 L530.85,212.51 L531.10,212.40 L531.35,212.37 L531.60,212.29 L531.85,212.42 L532.10,212.40 L532.35,212.45" fill="none" stroke="#363636" stroke-width="1.8" stroke-linejoin="round"/>
<g fill="#000"><path d="M70.8,174.6 L76.3,184.6 L65.3,184.6 Z"/><path d="M90.3,147.9 L95.8,157.9 L84.8,157.9 Z"/><path d="M102.9,96.0 L108.4,106.0 L97.4,106.0 Z"/><path d="M172.3,177.3 L177.8,187.3 L166.8,187.3 Z"/><path d="M198.5,70.5 L204.0,80.5 L193.0,80.5 Z"/><path d="M221.9,17.9 L227.4,27.9 L216.4,27.9 Z"/><path d="M232.9,190.5 L238.4,200.5 L227.4,200.5 Z"/><path d="M325.3,191.2 L330.8,201.2 L319.8,201.2 Z"/><path d="M352.0,180.7 L357.5,190.7 L346.5,190.7 Z"/><path d="M377.7,193.8 L383.2,203.8 L372.2,203.8 Z"/><path d="M421.6,183.0 L427.1,193.0 L416.1,193.0 Z"/><path d="M435.9,176.7 L441.4,186.7 L430.4,186.7 Z"/><path d="M445.5,176.4 L451.0,186.4 L440.0,186.4 Z"/><path d="M462.5,178.2 L468.0,188.2 L457.0,188.2 Z"/><path d="M491.4,187.3 L496.9,197.3 L485.9,197.3 Z"/><path d="M499.5,187.3 L505.0,197.3 L494.0,197.3 Z"/><path d="M506.8,187.3 L512.3,197.3 L501.3,197.3 Z"/><path d="M521.5,193.5 L527.0,203.5 L516.0,203.5 Z"/><path d="M442.3,26.6 L447.8,35.8 L436.8,35.8 Z"/><path d="M122.9,181.3h4.8v4.1h4.1v4.8h-4.1v4.1h-4.8v-4.1h-4.1v-4.8h4.1z"/><path d="M440.4,45.0h4.9v3.8h3.8v4.9h-3.8v3.8h-4.9v-3.8h-3.8v-4.9h3.8z"/></g>
<g stroke="#000" stroke-width="1.9" fill="none">
<rect x="33.35" y="11.7" width="499.8" height="204.45"/><path d="M33.40,216.15V220.9"/><path d="M158.30,216.15V220.9"/><path d="M283.20,216.15V220.9"/><path d="M408.10,216.15V220.9"/><path d="M533.00,216.15V220.9"/>
<rect x="33.35" y="274.65" width="499.8" height="201.5"/><path d="M33.40,476.15V480.9"/><path d="M131.30,476.15V480.9"/><path d="M229.20,476.15V480.9"/><path d="M327.00,476.15V480.9"/><path d="M424.90,476.15V480.9"/><path d="M522.80,476.15V480.9"/>
</g>
<text transform="translate(42.60,43.80) scale(1,1.035)" style="font-size:28.2px">A</text>
<text transform="translate(456.80,37.10) scale(1,1.03)" class="leg">B<tspan font-size="12.3" dy="4.9" dx="-0.3">4</tspan><tspan dy="-4.9">C</tspan></text>
<text transform="translate(456.70,57.30) scale(1,1.03)" class="leg">Carbon</text>
<text transform="translate(34.00,239.70) scale(1,0.97)" text-anchor="middle">15</text><text transform="translate(158.90,239.70) scale(1,0.97)" text-anchor="middle">30</text><text transform="translate(283.80,239.70) scale(1,0.97)" text-anchor="middle">45</text><text transform="translate(408.70,239.70) scale(1,0.97)" text-anchor="middle">60</text><text transform="translate(533.60,239.70) scale(1,0.97)" text-anchor="middle">75</text>
<text transform="translate(287.30,259.05) scale(1,0.97)" text-anchor="middle">2<tspan font-weight="normal" font-size="16.6" dx="-0.4">θ</tspan>, deg</text>
<text transform="translate(19.40,105.90) rotate(-90) scale(1,0.97)" text-anchor="middle">Intensity, a.u.</text>
<!-- panel B -->
<path d="M34.40,451.00 L35.00,450.45 L35.60,450.61 L36.20,450.28 L36.80,450.18 L37.40,449.45 L38.00,449.04 L38.60,448.94 L39.20,448.35 L39.80,448.39 L40.40,448.06 L41.00,447.61 L41.60,447.37 L42.20,447.03 L42.80,446.72 L43.40,446.17 L44.00,445.82 L44.60,446.12 L45.20,445.36 L45.80,444.99 L46.40,444.00 L47.00,443.86 L47.60,443.04 L48.20,442.51 L48.80,441.91 L49.40,441.11 L50.00,440.01 L50.60,439.29 L51.20,438.87 L51.80,438.82 L52.40,438.34 L53.00,437.72 L53.60,437.28 L54.20,436.36 L54.80,435.68 L55.40,434.81 L56.00,434.19 L56.60,433.36 L57.20,432.42 L57.80,431.34 L58.40,430.50 L59.00,429.83 L59.60,429.60 L60.20,429.02 L60.80,428.57 L61.40,428.23 L62.00,428.29 L62.60,427.56 L63.20,426.88 L63.80,426.15 L64.40,426.07 L65.00,425.78 L65.60,425.54 L66.20,425.39 L66.80,425.13 L67.40,424.94 L68.00,424.90 L68.60,425.15 L69.20,425.75 L69.80,426.05 L70.40,426.38 L71.00,426.76 L71.60,426.88 L72.20,427.13 L72.80,427.39 L73.40,428.02 L74.00,428.11 L74.60,428.49 L75.20,428.72 L75.80,428.97 L76.40,429.42 L77.00,429.31 L77.60,429.71 L78.20,429.18 L78.80,429.59 L79.40,429.72 L80.00,429.58 L80.60,429.32 L81.20,428.87 L81.80,428.48 L82.40,428.40 L83.00,428.04 L83.60,427.77 L84.20,426.85 L84.80,426.27 L85.40,425.95 L86.00,425.60 L86.60,425.58 L87.20,424.48 L87.80,423.60 L88.40,422.74 L89.00,422.41 L89.60,422.39 L90.20,421.57 L90.80,421.32 L91.40,420.60 L92.00,420.43 L92.60,420.20 L93.20,420.60 L93.80,421.04 L94.40,421.95 L95.00,422.69 L95.60,423.19 L96.20,423.29 L96.80,423.51 L97.40,424.43 L98.00,424.79 L98.60,425.80 L99.20,426.18 L99.80,427.67 L100.40,428.45 L101.00,429.29 L101.60,429.99 L102.20,430.27 L102.80,431.45 L103.40,432.47 L104.00,433.47 L104.60,434.47 L105.20,435.12 L105.80,436.34 L106.40,436.39 L107.00,437.14 L107.60,437.79 L108.20,438.67 L108.80,438.79 L109.40,439.32 L110.00,440.10 L110.60,440.89 L111.20,441.36 L111.80,441.29 L112.40,441.59 L113.00,441.76 L113.60,442.24 L114.20,443.17 L114.80,443.43 L115.40,443.50 L116.00,443.23 L116.60,443.07 L117.20,443.50 L117.80,443.65 L118.40,443.95 L119.00,443.89 L119.60,443.53 L120.20,443.75 L120.80,443.72 L121.40,444.44 L122.00,444.62 L122.60,444.79 L123.20,444.04 L123.80,444.43 L124.40,444.85 L125.00,445.35 L125.60,444.92 L126.20,444.66 L126.80,444.44 L127.40,444.87 L128.00,444.88 L128.60,444.63 L129.20,443.94 L129.80,443.15 L130.40,443.55 L131.00,443.75 L131.60,444.65 L132.20,444.81 L132.80,444.21 L133.40,443.66 L134.00,443.16 L134.60,443.34 L135.20,442.89 L135.80,442.64 L136.40,442.39 L137.00,442.70 L137.60,442.37 L138.20,442.10 L138.80,441.58 L139.40,441.49 L140.00,441.37 L140.60,441.44 L141.20,441.70 L141.80,442.06 L142.40,442.53 L143.00,442.74 L143.60,442.84 L144.20,442.29 L144.80,442.22 L145.40,442.42 L146.00,442.43 L146.60,442.06 L147.20,441.57 L147.80,441.66 L148.40,441.88 L149.00,441.89 L149.60,442.24 L150.20,442.01 L150.80,442.20 L151.40,441.98 L152.00,442.03 L152.60,442.32 L153.20,442.44 L153.80,442.81 L154.40,442.46 L155.00,442.62 L155.60,442.62 L156.20,442.65 L156.80,442.02 L157.40,442.05 L158.00,442.20 L158.60,442.61 L159.20,442.34 L159.80,442.06 L160.40,441.89 L161.00,441.37 L161.60,440.97 L162.20,440.48 L162.80,439.90 L163.40,438.84 L164.00,438.23 L164.60,436.80 L165.20,434.67 L165.80,431.66 L166.40,428.10 L167.00,424.79 L167.60,421.59 L168.20,419.18 L168.80,415.63 L169.40,411.79 L170.00,407.33 L170.60,399.37 L171.20,391.86 L171.80,397.65 L172.40,407.02 L173.00,411.69 L173.60,415.41 L174.20,419.06 L174.80,422.24 L175.40,425.73 L176.00,428.15 L176.60,431.04 L177.20,433.90 L177.80,436.58 L178.40,438.78 L179.00,438.72 L179.60,439.52 L180.20,439.79 L180.80,440.39 L181.40,440.89 L182.00,441.54 L182.60,441.81 L183.20,441.95 L183.80,441.27 L184.40,441.30 L185.00,440.92 L185.60,441.26 L186.20,440.64 L186.80,440.27 L187.40,440.07 L188.00,440.08 L188.60,439.87 L189.20,439.01 L189.80,438.43 L190.40,438.01 L191.00,437.14 L191.60,435.15 L192.20,432.68 L192.80,429.39 L193.40,425.34 L194.00,421.55 L194.60,417.56 L195.20,413.88 L195.80,408.43 L196.40,400.42 L197.00,399.17 L197.60,407.18 L198.20,412.32 L198.80,416.69 L199.40,420.58 L200.00,424.49 L200.60,427.39 L201.20,430.69 L201.80,432.93 L202.40,435.46 L203.00,436.34 L203.60,437.19 L204.20,437.84 L204.80,438.57 L205.40,439.19 L206.00,439.20 L206.60,439.74 L207.20,439.09 L207.80,439.06 L208.40,438.85 L209.00,439.30 L209.60,439.36 L210.20,438.70 L210.80,439.09 L211.40,438.75 L212.00,439.35 L212.60,439.12 L213.20,439.83 L213.80,440.09 L214.40,439.88 L215.00,439.48 L215.60,439.05 L216.20,438.81 L216.80,439.23 L217.40,439.22 L218.00,439.71 L218.60,439.23 L219.20,439.35 L219.80,439.17 L220.40,439.44 L221.00,439.18 L221.60,439.60 L222.20,439.47 L222.80,439.11 L223.40,439.03 L224.00,439.13 L224.60,439.56 L225.20,440.04 L225.80,440.11 L226.40,440.02 L227.00,439.26 L227.60,439.39 L228.20,439.71 L228.80,440.23 L229.40,440.47 L230.00,440.41 L230.60,440.20 L231.20,440.20 L231.80,440.40 L232.40,440.39 L233.00,440.57 L233.60,440.90 L234.20,440.78 L234.80,440.54 L235.40,440.44 L236.00,440.86 L236.60,440.92 L237.20,441.45 L237.80,441.31 L238.40,441.29 L239.00,441.06 L239.60,440.77 L240.20,440.80 L240.80,440.90 L241.40,441.11 L242.00,441.12 L242.60,441.18 L243.20,441.56 L243.80,441.70 L244.40,441.40 L245.00,441.02 L245.60,440.97 L246.20,440.74 L246.80,441.42 L247.40,441.35 L248.00,441.19 L248.60,440.42 L249.20,440.17 L249.80,439.77 L250.40,439.41 L251.00,439.59 L251.60,439.39 L252.20,439.23 L252.80,438.87 L253.40,439.36 L254.00,439.00 L254.60,438.85 L255.20,438.12 L255.80,438.53 L256.40,438.02 L257.00,437.78 L257.60,437.28 L258.20,437.04 L258.80,436.68 L259.40,436.80 L260.00,436.36 L260.60,436.63 L261.20,435.77 L261.80,435.20 L262.40,434.42 L263.00,434.29 L263.60,434.68 L264.20,435.14 L264.80,434.89 L265.40,434.32 L266.00,433.20 L266.60,432.75 L267.20,432.30 L267.80,431.27 L268.40,430.69 L269.00,429.86 L269.60,429.87 L270.20,428.16 L270.80,426.72 L271.40,425.01 L272.00,423.81 L272.60,422.49 L273.20,421.13 L273.80,420.44 L274.40,419.59 L275.00,418.98 L275.60,417.53 L276.20,415.83 L276.80,414.33 L277.40,413.22 L278.00,412.31 L278.60,410.96 L279.20,409.10 L279.80,407.48 L280.40,405.29 L281.00,403.94 L281.60,402.50 L282.20,401.50 L282.80,400.53 L283.40,399.14 L284.00,398.20 L284.60,397.47 L285.20,396.92 L285.80,396.42 L286.40,396.67 L287.00,396.75 L287.60,396.51 L288.20,395.44 L288.80,395.59 L289.40,395.06 L290.00,395.30 L290.60,395.29 L291.20,396.10 L291.80,396.66 L292.40,396.64 L293.00,397.22 L293.60,397.56 L294.20,398.47 L294.80,399.44 L295.40,400.58 L296.00,402.12 L296.60,403.33 L297.20,404.45 L297.80,405.27 L298.40,406.29 L299.00,407.07 L299.60,407.67 L300.20,408.39 L300.80,409.81 L301.40,411.07 L302.00,412.23 L302.60,413.77 L303.20,415.08 L303.80,415.96 L304.40,415.89 L305.00,416.74 L305.60,417.37 L306.20,418.58 L306.80,419.11 L307.40,420.36 L308.00,420.54 L308.60,421.27 L309.20,421.10 L309.80,421.87 L310.40,422.53 L311.00,423.77 L311.60,423.94 L312.20,424.39 L312.80,424.86 L313.40,425.78 L314.00,425.86 L314.60,426.05 L315.20,426.30 L315.80,427.10 L316.40,427.65 L317.00,428.37 L317.60,428.55 L318.20,428.27 L318.80,428.08 L319.40,428.39 L320.00,428.30 L320.60,428.15 L321.20,427.19 L321.80,426.98 L322.40,426.69 L323.00,426.84 L323.60,427.00 L324.20,426.83 L324.80,426.65 L325.40,425.92 L326.00,425.92 L326.60,425.70 L327.20,425.98 L327.80,425.71 L328.40,425.34 L329.00,425.62 L329.60,425.38 L330.20,425.17 L330.80,424.82 L331.40,424.79 L332.00,425.07 L332.60,425.36 L333.20,425.36 L333.80,425.26 L334.40,425.26 L335.00,424.72 L335.60,424.54 L336.20,424.01 L336.80,424.47 L337.40,424.68 L338.00,423.97 L338.60,423.50 L339.20,422.70 L339.80,422.57 L340.40,422.10 L341.00,421.67 L341.60,421.84 L342.20,422.27 L342.80,422.54 L343.40,422.92 L344.00,422.94 L344.60,423.35 L345.20,422.95 L345.80,423.83 L346.40,424.74 L347.00,425.78 L347.60,425.83 L348.20,425.70 L348.80,426.27 L349.40,426.72 L350.00,427.56 L350.60,427.86 L351.20,427.90 L351.80,427.74 L352.40,428.16 L353.00,428.42 L353.60,429.19 L354.20,429.59 L354.80,429.92 L355.40,430.24 L356.00,430.23 L356.60,430.88 L357.20,430.73 L357.80,430.87 L358.40,430.97 L359.00,431.70 L359.60,431.96 L360.20,432.04 L360.80,431.30 L361.40,431.24 L362.00,430.98 L362.60,431.34 L363.20,431.37 L363.80,431.86 L364.40,432.12 L365.00,432.30 L365.60,432.41 L366.20,433.10 L366.80,433.43 L367.40,434.12 L368.00,434.82 L368.60,435.68 L369.20,436.52 L369.80,436.95 L370.40,438.02 L371.00,438.63 L371.60,438.54 L372.20,438.58 L372.80,438.88 L373.40,439.99 L374.00,440.52 L374.60,441.30 L375.20,441.67 L375.80,441.52 L376.40,441.12 L377.00,440.56 L377.60,441.50 L378.20,441.82 L378.80,442.46 L379.40,441.75 L380.00,441.75 L380.60,441.92 L381.20,442.16 L381.80,441.98 L382.40,441.40 L383.00,441.60 L383.60,441.08 L384.20,440.35 L384.80,439.18 L385.40,438.68 L386.00,438.50 L386.60,438.07 L387.20,437.35 L387.80,436.77 L388.40,436.34 L389.00,435.66 L389.60,435.59 L390.20,435.28 L390.80,434.52 L391.40,433.26 L392.00,432.41 L392.60,432.54 L393.20,432.40 L393.80,430.96 L394.40,429.59 L395.00,428.22 L395.60,427.98 L396.20,427.08 L396.80,426.31 L397.40,425.18 L398.00,424.45 L398.60,422.78 L399.20,421.44 L399.80,419.99 L400.40,418.93 L401.00,417.91 L401.60,416.46 L402.20,415.54 L402.80,413.64 L403.40,412.75 L404.00,411.43 L404.60,410.05 L405.20,408.39 L405.80,406.66 L406.40,405.21 L407.00,403.96 L407.60,402.78 L408.20,401.72 L408.80,400.69 L409.40,400.17 L410.00,399.86 L410.60,399.23 L411.20,399.06 L411.80,398.55 L412.40,398.58 L413.00,398.28 L413.60,398.60 L414.20,397.94 L414.80,397.48 L415.40,397.15 L416.00,397.45 L416.60,397.54 L417.20,397.50 L417.80,397.09 L418.40,396.09 L419.00,395.04 L419.60,394.05 L420.20,392.25 L420.80,391.48 L421.40,390.22 L422.00,390.09 L422.60,388.32 L423.20,387.62 L423.80,386.53 L424.40,386.88 L425.00,387.17 L425.60,387.52 L426.20,387.26 L426.80,387.22 L427.40,387.10 L428.00,387.12 L428.60,386.97 L429.20,387.58 L429.80,387.91 L430.40,388.02 L431.00,388.26 L431.60,388.82 L432.20,389.96 L432.80,390.20 L433.40,390.58 L434.00,391.09 L434.60,391.39 L435.20,391.44 L435.80,391.26 L436.40,391.42 L437.00,391.66 L437.60,391.51 L438.20,391.46 L438.80,391.50 L439.40,391.14 L440.00,390.52 L440.60,389.55 L441.20,388.87 L441.80,388.45 L442.40,387.94 L443.00,387.43 L443.60,385.92 L444.20,384.37 L444.80,382.12 L445.40,381.09 L446.00,379.84 L446.60,378.68 L447.20,376.95 L447.80,375.12 L448.40,373.41 L449.00,372.25 L449.60,371.38 L450.20,369.82 L450.80,368.36 L451.40,366.07 L452.00,364.18 L452.60,362.04 L453.20,360.32 L453.80,358.77 L454.40,356.47 L455.00,354.53 L455.60,352.07 L456.20,349.89 L456.80,347.09 L457.40,344.20 L458.00,340.66 L458.60,336.97 L459.20,333.85 L459.80,330.99 L460.40,327.22 L461.00,322.99 L461.60,318.97 L462.20,314.70 L462.80,310.99 L463.40,306.80 L464.00,303.57 L464.60,299.42 L465.20,296.21 L465.80,293.03 L466.40,291.37 L467.00,289.16 L467.60,288.41 L468.20,286.96 L468.80,286.59 L469.40,286.01 L470.00,286.83 L470.60,287.94 L471.20,289.55 L471.80,291.71 L472.40,294.31 L473.00,297.61 L473.60,300.46 L474.20,304.18 L474.80,307.44 L475.40,310.99 L476.00,314.17 L476.60,318.26 L477.20,322.22 L477.80,326.31 L478.40,329.97 L479.00,333.37 L479.60,336.65 L480.20,340.12 L480.80,343.06 L481.40,346.77 L482.00,349.81 L482.60,353.59 L483.20,356.57 L483.80,359.85 L484.40,362.68 L485.00,365.54 L485.60,368.80 L486.20,372.16 L486.80,375.20 L487.40,377.34 L488.00,379.68 L488.60,382.34 L489.20,385.67 L489.80,388.58 L490.40,390.85 L491.00,392.60 L491.60,395.37 L492.20,397.52 L492.80,400.32 L493.40,402.29 L494.00,405.54 L494.60,407.42 L495.20,409.04 L495.80,410.13 L496.40,411.96 L497.00,414.03 L497.60,415.70 L498.20,416.92 L498.80,417.49 L499.40,418.79 L500.00,420.18 L500.60,422.42 L501.20,423.28 L501.80,424.72 L502.40,425.32 L503.00,426.48 L503.60,427.81 L504.20,428.92 L504.80,429.93 L505.40,430.48 L506.00,430.99 L506.60,431.65 L507.20,431.96 L507.80,433.31 L508.40,434.09 L509.00,434.99 L509.60,435.30 L510.20,435.68 L510.80,435.97 L511.40,435.73 L512.00,436.35 L512.60,436.88 L513.20,437.60 L513.80,438.17 L514.40,438.00 L515.00,438.56 L515.60,438.22 L516.20,438.71 L516.80,438.87 L517.40,439.89 L518.00,440.17 L518.60,440.23 L519.20,439.81 L519.80,440.84 L520.40,441.38 L521.00,441.91 L521.60,442.02 L522.20,442.04 L522.80,441.48 L523.40,440.89 L524.00,440.58 L524.60,441.70 L525.20,441.51 L525.80,441.92 L526.40,441.27 L527.00,441.53 L527.60,441.45 L528.20,441.55 L528.80,441.49 L529.40,441.16 L530.00,441.03 L530.60,440.93 L531.20,441.02 L531.80,441.19" fill="none" stroke="#000" stroke-width="3.0" stroke-linejoin="round" stroke-linecap="round"/>
<g stroke="#000" stroke-width="2" fill="none"><path d="M67.0,393.4V420.4"/><path d="M93.1,387.2V414.5"/><path d="M171.3,360.7V387.6"/><path d="M196.4,366.8V392.8"/><path d="M289.1,362.8V389.8"/><path d="M341.9,389.8V417.0"/><path d="M364.0,398.6V425.6"/><path d="M409.0,366.4V394.2"/><path d="M425.0,355.0V382.8"/></g>
<text transform="translate(73.77,387.50) rotate(-90) scale(1,1.03)" style="font-size:16.2px">271</text><text transform="translate(100.57,383.70) rotate(-90) scale(1,1.03)" style="font-size:16.2px">321</text><text transform="translate(177.77,357.10) rotate(-90) scale(1,1.03)" style="font-size:16.2px">481</text><text transform="translate(203.07,363.20) rotate(-90) scale(1,1.03)" style="font-size:16.2px">533</text><text transform="translate(295.67,360.40) rotate(-90) scale(1,1.03)" style="font-size:16.2px">722</text><text transform="translate(348.17,386.40) rotate(-90) scale(1,1.03)" style="font-size:16.2px">832</text><text transform="translate(370.47,393.70) rotate(-90) scale(1,1.03)" style="font-size:16.2px">879</text><text transform="translate(413.87,363.30) rotate(-90) scale(1,1.03)" style="font-size:16.2px">972</text><text transform="translate(431.57,352.30) rotate(-90) scale(1,1.03)" style="font-size:16.2px">1003</text>
<text transform="translate(476.30,296.40) scale(1,0.97)" style="font-size:17px">1089</text>
<text transform="translate(43.40,306.45) scale(1,1.08)" style="font-size:27.3px">B</text>
<text transform="translate(34.00,500.05) scale(1,0.97)" text-anchor="middle">200</text><text transform="translate(131.90,500.05) scale(1,0.97)" text-anchor="middle">400</text><text transform="translate(229.80,500.05) scale(1,0.97)" text-anchor="middle">600</text><text transform="translate(327.60,500.05) scale(1,0.97)" text-anchor="middle">800</text><text transform="translate(425.50,500.05) scale(1,0.97)" text-anchor="middle">1000</text><text transform="translate(523.40,500.05) scale(1,0.97)" text-anchor="middle">1200</text>
<text transform="translate(280.60,519.35) scale(1,0.97)" text-anchor="middle" style="font-size:15.7px">Raman shift, cm<tspan font-size="10.8" dy="-3.8" dx="0.7">-</tspan><tspan font-size="10.8" dx="0.3">1</tspan></text>
<text transform="translate(18.50,372.90) rotate(-90) scale(1,0.97)" text-anchor="middle">Intensity, a.u.</text>
</g>
</svg>
</body></html>
